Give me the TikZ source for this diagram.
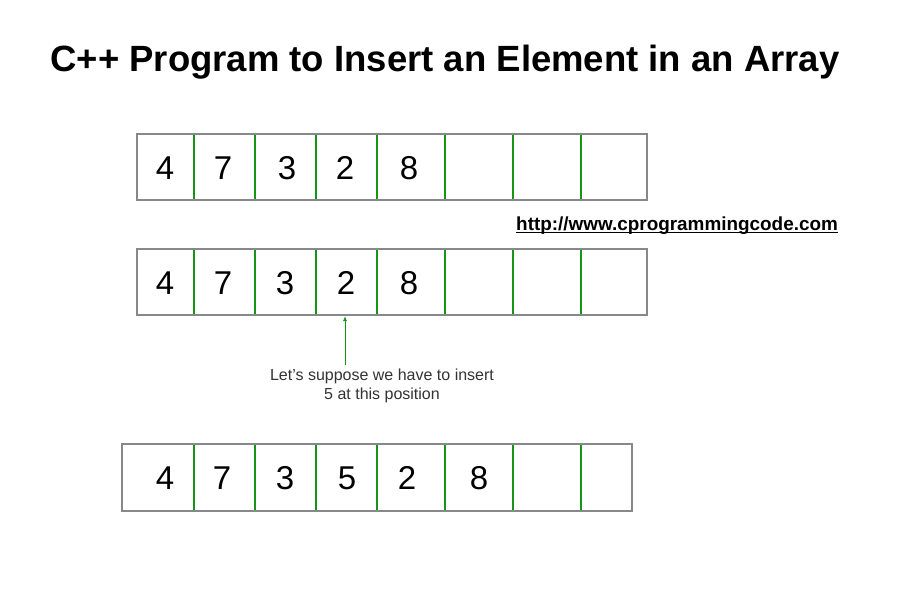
\documentclass[tikz,border=0pt]{standalone}
\usepackage{fontspec}
\setmainfont{Liberation Sans}
\usetikzlibrary{arrows.meta}
\definecolor{cellgreen}{RGB}{20,150,20}
\definecolor{boxgray}{RGB}{134,136,140}
\definecolor{notegray}{RGB}{51,51,51}

\begin{document}
\begin{tikzpicture}[x=1pt, y=-1pt,
			border/.style={draw=boxgray, line width=2pt},
			divider/.style={draw=cellgreen, line width=1.2pt},
			digit/.style={font=\fontsize{33}{33}\selectfont, inner sep=0pt},
			note/.style={font=\fontsize{16}{19}\selectfont, text=notegray, align=center, inner sep=2pt}]
			\useasboundingbox[fill=white] (0,0) rectangle (897,597);
			\node[font=\bfseries\fontsize{36.5}{36}\selectfont, anchor=base] (title) at (445,71) {C++ Program to Insert an Element in an Array};
			% the three arrays
			\foreach \top/\bot/\lft/\rgt in {134/200/137/647, 249/315/137/647, 444/511/122/632} {
				\foreach \d in {194,255,316,377,445,513,581}
					\draw[divider] (\d,\top) -- (\d,\bot);
				\draw[border] (\lft,\top) rectangle (\rgt,\bot);
			}
			\foreach \x/\v [count=\i] in {165/4, 223/7, 287/3, 345/2, 409/8}
				\node[digit] (a\i) at (\x,168) {\v};
			\foreach \x/\v [count=\i] in {165/4, 223/7, 285/3, 346/2, 409/8}
				\node[digit] (b\i) at (\x,283) {\v};
			\foreach \x/\v [count=\i] in {165/4, 222/7, 285/3, 347/5, 407/2, 479/8}
				\node[digit] (c\i) at (\x,478) {\v};
			\node[font=\bfseries\fontsize{18.9}{19}\selectfont, anchor=base west, inner sep=0pt] (url) at (516,230) {http://www.cprogrammingcode.com};
			\draw[line width=1.3pt] ([yshift=-2.5pt]url.base west) -- ([yshift=-2.5pt]url.base east);
			\node[note] (note) at (382,386) {Let’s suppose we have to insert\\5 at this position};
			\coordinate (pos) at (345,316);
			\draw[cellgreen, line width=0.9pt, -{Latex[length=5pt,width=4pt]}] ([yshift=2pt]note.north -| pos) -- (pos);
		\end{tikzpicture}
\end{document}
